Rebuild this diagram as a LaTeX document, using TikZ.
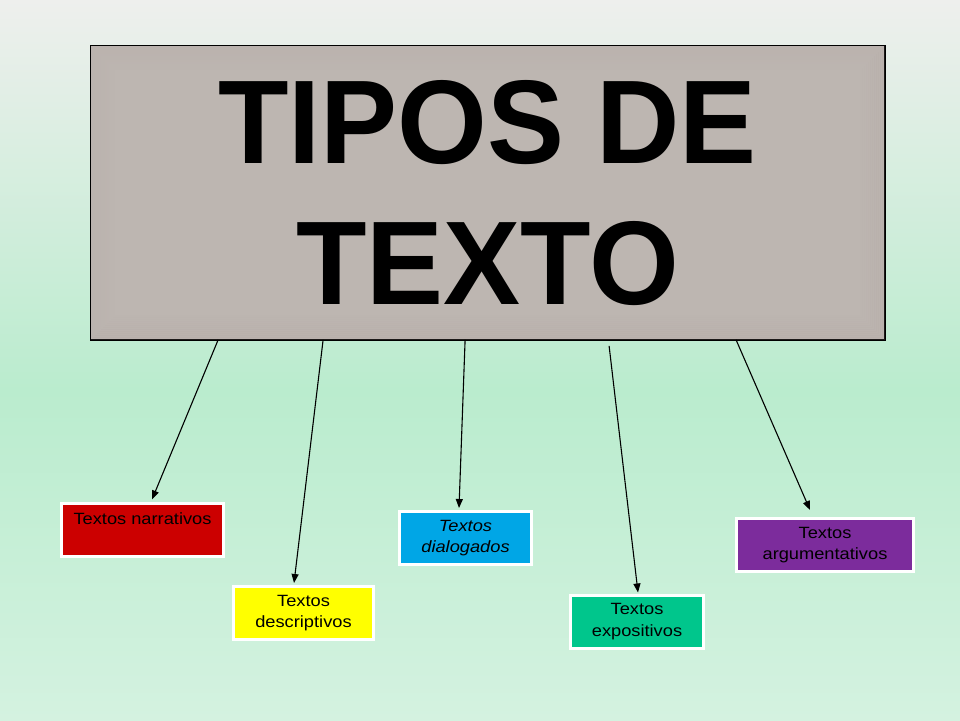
\documentclass[tikz,border=0pt]{standalone}
\usepackage{fontspec}
\setmainfont{Liberation Sans}
\newfontfamily\boxfont[FakeStretch=1.12]{Liberation Sans}
\newfontfamily\titlefont[FakeStretch=0.97]{Liberation Sans}
\usetikzlibrary{arrows.meta}
\definecolor{bgtop}{RGB}{238,239,237}
\definecolor{bgmid}{RGB}{186,236,206}
\definecolor{bgbot}{RGB}{212,242,224}
\definecolor{titlegray}{RGB}{189,182,177}
\definecolor{titleedge}{RGB}{175,163,160}
\definecolor{cred}{RGB}{204,0,0}
\definecolor{cyellow}{RGB}{255,255,0}
\definecolor{cblue}{RGB}{0,166,230}
\definecolor{cgreen}{RGB}{0,198,140}
\definecolor{cpurple}{RGB}{124,44,156}
\tikzset{
  titlebox/.style={draw=black, line width=0.8pt, fill=titlegray, minimum width=794pt, minimum height=294pt,
    inner sep=0pt},
  titlefontstyle/.style={font=\titlefont\fontsize{119}{141}\selectfont\bfseries, align=center, inner sep=0pt},
  typebox/.style={draw=white, line width=3pt, minimum height=53pt, inner sep=0pt, align=center,
    font=\boxfont\fontsize{16.3}{21.7}\selectfont, text=black},
  conn/.style={draw=black, line width=1.1pt, -{Triangle[length=9pt,width=7pt]}}
}
\begin{document}
\begin{tikzpicture}[x=1pt,y=-1pt]
\useasboundingbox (0,0) rectangle (960,720);
\shade[top color=bgtop, bottom color=bgmid] (0,0) rectangle (960,390);
\shade[top color=bgmid, bottom color=bgbot] (0,390) rectangle (960,720);

\node[titlebox] (title) at (487.5,192.5) {};
% soft inner shadow along the edges of the title box
\foreach \i in {0,...,11}{
  \pgfmathsetmacro{\d}{1.5+2*\i}
  \pgfmathsetmacro{\o}{0.16*(1-\i/12)}
  \draw[titleedge, line width=2.2pt, opacity=\o]
    ([xshift=\d pt,yshift=-\d pt]title.north west) rectangle ([xshift=-\d pt,yshift=\d pt]title.south east);
}
\node[titlefontstyle] (titletext) at (487.5,193) {TIPOS DE\\TEXTO};
\draw[black, line width=0.8pt] (title.north west) rectangle (title.south east);

\node[typebox, fill=cred, minimum width=162pt] (nar) at (142.5,529.5) {Textos narrativos\\~};
\node[typebox, fill=cyellow, minimum width=140pt] (desc) at (303.5,613) {Textos\\descriptivos};
\node[typebox, fill=cblue, minimum width=132pt, font=\boxfont\fontsize{16.3}{21.7}\selectfont\itshape] (dial) at (465.5,538) {Textos\\dialogados};
\node[typebox, fill=cgreen, minimum width=133pt] (expo) at (637,621.5) {Textos\\expositivos};
\node[typebox, fill=cpurple, minimum width=177pt] (arg) at (825,545) {Textos\\argumentativos};

\coordinate (s1) at ([xshift=128pt]title.south west);
\coordinate (s2) at ([xshift=233pt]title.south west);
\coordinate (s3) at ([xshift=375pt]title.south west);
\coordinate (s4) at ([xshift=519pt,yshift=-6pt]title.south west);
\coordinate (s5) at ([xshift=646pt]title.south west);

\draw[conn] (s1) -- ([xshift=92pt,yshift=2pt]nar.north west);
\draw[conn] (s2) -- ([xshift=62pt,yshift=2pt]desc.north west);
\draw[conn] (s3) -- ([xshift=61pt,yshift=2pt]dial.north west);
\draw[conn] (s4) -- ([xshift=69pt,yshift=1pt]expo.north west);
\draw[conn] (s5) -- ([xshift=75pt,yshift=7pt]arg.north west);
\end{tikzpicture}
\end{document}
